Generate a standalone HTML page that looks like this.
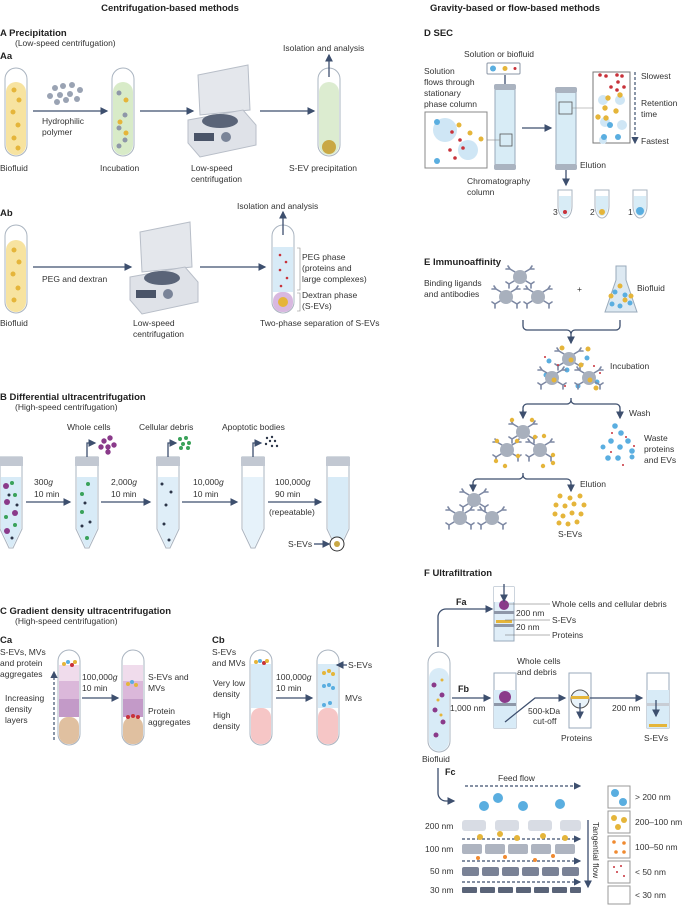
<!DOCTYPE html>
<html><head><meta charset="utf-8"><style>
html,body{margin:0;padding:0;background:#fff}
svg{display:block;font-family:"Liberation Sans",sans-serif}
.t{font-size:8.5px;fill:#333}
.b{font-size:9px;font-weight:bold;fill:#222}
.h{font-size:9.5px;font-weight:bold;fill:#222}
.ar{stroke:#3d4f6e;stroke-width:1.3;fill:none;marker-end:url(#m)}
.ln{stroke:#3d4f6e;stroke-width:1.3;fill:none}
.da{stroke:#3d4f6e;stroke-width:1.2;fill:none;stroke-dasharray:3 2;marker-end:url(#m)}
.tube{fill:#fff;stroke:#aab4c0;stroke-width:1}
.ct{fill:#fff;stroke:#aab4c0;stroke-width:1}
</style></head><body>
<svg width="685" height="906" viewBox="0 0 685 906">
<defs>
<marker id="m" markerWidth="6" markerHeight="6" refX="5" refY="3" orient="auto"><path d="M0,0L6,3L0,6z" fill="#3d4f6e"/></marker>
<g id="cent">
<path d="M10,10 L60,0 L62,45 L12,50z" fill="#e4e7ec" stroke="#b8bec8"/>
<path d="M0,55 L55,45 L68,60 L68,80 L12,92 L0,78z" fill="#dfe2e8" stroke="#b8bec8"/>
<ellipse cx="32" cy="56" rx="18" ry="7" fill="#5a6478"/>
<rect x="6" y="68" width="20" height="8" fill="#4a5468"/>
<circle cx="38" cy="72" r="5" fill="#7a8498"/>
</g>
<g id="ab">
<g stroke="#7d88a3" stroke-width="1.6" fill="none" stroke-linecap="round">
<path d="M-5,-5l-5,-3m0,0l-2,-3m2,3l-4,0"/><path d="M5,-5l5,-3m0,0l2,-3m-2,3l4,0"/><path d="M6,4l5,3m0,0l3,-2m-3,2l0,4"/><path d="M-6,4l-5,3m0,0l-3,-2m3,2l0,4"/>
</g>
<circle r="7" fill="#a8b0bd"/>
</g>
<g id="ct">
<path d="M0,0h22v72l-9,19h-4l-9,-19z" class="ct"/>
</g>
</defs>
<text class="h" x="170" y="11" text-anchor="middle">Centrifugation-based methods</text>
<text class="h" x="515" y="11" text-anchor="middle">Gravity-based or flow-based methods</text>

<!-- A -->
<text class="h" x="0" y="36">A  Precipitation</text>
<text class="t" x="15" y="46">(Low-speed centrifugation)</text>
<text class="h" x="0" y="59">Aa</text>
<rect class="tube" x="5" y="68" width="22" height="88" rx="11"/>
<rect x="6" y="82" width="20" height="73" rx="10" fill="#f7e3a0"/>
<g fill="#e5b53a"><circle cx="14" cy="90" r="2.5"/><circle cx="19" cy="100" r="2.5"/><circle cx="13" cy="112" r="2.5"/><circle cx="18" cy="125" r="2.5"/><circle cx="14" cy="138" r="2.5"/><circle cx="18" cy="148" r="2.5"/></g>
<text class="t" x="0" y="171">Biofluid</text>
<g fill="#9aa3b3"><circle cx="55" cy="88" r="3"/><circle cx="63" cy="86" r="3"/><circle cx="72" cy="85" r="3"/><circle cx="50" cy="96" r="3"/><circle cx="60" cy="95" r="3"/><circle cx="70" cy="94" r="3"/><circle cx="80" cy="90" r="3"/><circle cx="57" cy="102" r="3"/><circle cx="66" cy="100" r="3"/><circle cx="77" cy="99" r="3"/></g>
<line class="ar" x1="33" y1="111" x2="107" y2="111"/>
<text class="t" x="42" y="124">Hydrophilic</text><text class="t" x="42" y="135">polymer</text>
<rect class="tube" x="112" y="68" width="22" height="88" rx="11"/>
<rect x="113" y="82" width="20" height="73" rx="10" fill="#d8ebc8"/>
<g fill="#8e97a8"><circle cx="119" cy="93" r="2.5"/><circle cx="125" cy="115" r="2.5"/><circle cx="119" cy="128" r="2.5"/><circle cx="125" cy="140" r="2.5"/><circle cx="119" cy="146" r="2.5"/></g>
<g fill="#e5b53a"><circle cx="126" cy="100" r="2.5"/><circle cx="120" cy="122" r="2.5"/><circle cx="126" cy="133" r="2.5"/></g>
<text class="t" x="100" y="171">Incubation</text>
<line class="ar" x1="140" y1="111" x2="193" y2="111"/>
<use href="#cent" x="188" y="65"/>
<text class="t" x="191" y="171">Low-speed</text><text class="t" x="191" y="182">centrifugation</text>
<line class="ar" x1="260" y1="111" x2="314" y2="111"/>
<rect class="tube" x="318" y="68" width="22" height="88" rx="11"/>
<rect x="319" y="82" width="20" height="73" rx="10" fill="#dcecd0"/>
<circle cx="329" cy="147" r="7" fill="#c9a845"/>
<line class="ar" x1="329" y1="77" x2="329" y2="55"/>
<text class="t" x="283" y="51">Isolation and analysis</text>
<text class="t" x="289" y="171">S-EV precipitation</text>

<text class="h" x="0" y="216">Ab</text>
<rect class="tube" x="5" y="225" width="22" height="88" rx="11"/>
<rect x="6" y="240" width="20" height="72" rx="10" fill="#f7e3a0"/>
<g fill="#e5b53a"><circle cx="14" cy="250" r="2.5"/><circle cx="19" cy="262" r="2.5"/><circle cx="13" cy="274" r="2.5"/><circle cx="18" cy="288" r="2.5"/><circle cx="14" cy="300" r="2.5"/></g>
<text class="t" x="0" y="326">Biofluid</text>
<line class="ar" x1="33" y1="267" x2="131" y2="267"/>
<text class="t" x="42" y="282">PEG and dextran</text>
<use href="#cent" x="130" y="222"/>
<text class="t" x="133" y="326">Low-speed</text><text class="t" x="133" y="337">centrifugation</text>
<line class="ar" x1="200" y1="267" x2="265" y2="267"/>
<rect class="tube" x="272" y="225" width="22" height="88" rx="11"/>
<rect x="273" y="247" width="20" height="45" fill="#d8ebf7"/>
<rect x="273" y="292" width="20" height="20" rx="9" fill="#d8b8e0"/>
<g fill="#c8323a"><circle cx="280" cy="255" r="1.3"/><circle cx="286" cy="262" r="1.3"/><circle cx="280" cy="270" r="1.3"/><circle cx="287" cy="278" r="1.3"/><circle cx="281" cy="286" r="1.3"/></g>
<circle cx="283" cy="302" r="5" fill="#e5b53a"/>
<line class="ar" x1="283" y1="235" x2="283" y2="212"/>
<text class="t" x="237" y="209">Isolation and analysis</text>
<path d="M297,248h3v42h-3M297,293h3v18h-3" stroke="#888" fill="none" stroke-width=".6"/>
<text class="t" x="302" y="260">PEG phase</text><text class="t" x="302" y="271">(proteins and</text><text class="t" x="302" y="282">large complexes)</text>
<text class="t" x="302" y="298">Dextran phase</text><text class="t" x="302" y="309">(S-EVs)</text>
<text class="t" x="260" y="326">Two-phase separation of S-EVs</text>

<!-- B -->
<text class="h" x="0" y="400">B  Differential ultracentrifugation</text>
<text class="t" x="15" y="410">(High-speed centrifugation)</text>
<g>
<use href="#ct" x="0" y="457"/><path d="M1,477h20v52l-8.5,18h-3l-8.5,-18z" fill="#d8ebf7"/><rect x="-1" y="457" width="24" height="9" fill="#c2c8d2"/>
<g fill="#8a3a8a"><circle cx="6" cy="486" r="3"/><circle cx="7" cy="502" r="3"/><circle cx="15" cy="513" r="3"/><circle cx="7" cy="531" r="3"/></g>
<g fill="#3aa25a"><circle cx="12" cy="483" r="2"/><circle cx="15" cy="495" r="2"/><circle cx="6" cy="517" r="2"/><circle cx="15" cy="525" r="2"/></g>
<g fill="#2c3548"><circle cx="9" cy="495" r="1.5"/><circle cx="12" cy="538" r="1.5"/><circle cx="17" cy="505" r="1.5"/></g>
<use href="#ct" x="76" y="457"/><path d="M77,477h20v52l-8.5,18h-3l-8.5,-18z" fill="#d8ebf7"/><rect x="75" y="457" width="24" height="9" fill="#c2c8d2"/>
<g fill="#3aa25a"><circle cx="88" cy="484" r="2"/><circle cx="82" cy="494" r="2"/><circle cx="82" cy="512" r="2"/><circle cx="87" cy="538" r="2"/></g>
<g fill="#2c3548"><circle cx="85" cy="503" r="1.5"/><circle cx="90" cy="522" r="1.5"/><circle cx="82" cy="526" r="1.5"/></g>
<use href="#ct" x="157" y="457"/><path d="M158,477h20v52l-8.5,18h-3l-8.5,-18z" fill="#dfeef8"/><rect x="156" y="457" width="24" height="9" fill="#c2c8d2"/>
<g fill="#2c3548"><circle cx="162" cy="484" r="1.5"/><circle cx="171" cy="492" r="1.5"/><circle cx="166" cy="505" r="1.5"/><circle cx="164" cy="524" r="1.5"/><circle cx="169" cy="540" r="1.5"/></g>
<use href="#ct" x="242" y="457"/><path d="M243,477h20v52l-8.5,18h-3l-8.5,-18z" fill="#e6f2fa"/><rect x="241" y="457" width="24" height="9" fill="#c2c8d2"/>
<use href="#ct" x="327" y="457"/><path d="M328,477h20v52l-8.5,18h-3l-8.5,-18z" fill="#d8ebf7"/><rect x="326" y="457" width="24" height="9" fill="#c2c8d2"/>
<circle cx="337" cy="544" r="7" fill="#fff" stroke="#333"/><circle cx="337" cy="544" r="3" fill="#c9a845"/>
</g>
<line class="ar" x1="26" y1="502" x2="70" y2="502"/><text class="t" x="34" y="485">300<tspan font-style="italic">g</tspan></text><text class="t" x="34" y="497">10 min</text>
<line class="ar" x1="101" y1="502" x2="150" y2="502"/><text class="t" x="111" y="485">2,000<tspan font-style="italic">g</tspan></text><text class="t" x="111" y="497">10 min</text>
<line class="ar" x1="182" y1="502" x2="237" y2="502"/><text class="t" x="193" y="485">10,000<tspan font-style="italic">g</tspan></text><text class="t" x="193" y="497">10 min</text>
<line class="ar" x1="268" y1="502" x2="321" y2="502"/><text class="t" x="275" y="485">100,000<tspan font-style="italic">g</tspan></text><text class="t" x="275" y="497">90 min</text><text class="t" x="269" y="515">(repeatable)</text>
<text class="t" x="288" y="547">S-EVs</text><line class="ar" x1="314" y1="544" x2="329" y2="544"/>
<path class="ar" d="M87,457V443h8"/><text class="t" x="67" y="430">Whole cells</text>
<g fill="#8a3a8a"><circle cx="104" cy="441" r="2.7"/><circle cx="110" cy="438" r="2.7"/><circle cx="114" cy="445" r="2.7"/><circle cx="108" cy="447" r="2.7"/><circle cx="101" cy="447" r="2.7"/><circle cx="108" cy="452" r="2.7"/></g>
<path class="ar" d="M168,457V443h8"/><text class="t" x="139" y="430">Cellular debris</text>
<g fill="#3aa25a"><circle cx="180" cy="439" r="2"/><circle cx="186" cy="438" r="2"/><circle cx="183" cy="444" r="2"/><circle cx="189" cy="443" r="2"/><circle cx="188" cy="448" r="2"/><circle cx="181" cy="448" r="2"/></g>
<path class="ar" d="M253,457V443h8"/><text class="t" x="222" y="430">Apoptotic bodies</text>
<g fill="#2c3548"><circle cx="267" cy="438" r="1.2"/><circle cx="272" cy="437" r="1.2"/><circle cx="270" cy="441" r="1.2"/><circle cx="275" cy="441" r="1.2"/><circle cx="266" cy="444" r="1.2"/><circle cx="272" cy="446" r="1.2"/><circle cx="277" cy="446" r="1.2"/></g>

<!-- C -->
<text class="h" x="0" y="614">C  Gradient density ultracentrifugation</text>
<text class="t" x="15" y="624">(High-speed centrifugation)</text>
<text class="h" x="0" y="643">Ca</text>
<text class="t" x="0" y="655">S-EVs, MVs</text><text class="t" x="0" y="666">and protein</text><text class="t" x="0" y="677">aggregates</text>
<text class="t" x="5" y="701">Increasing</text><text class="t" x="5" y="712">density</text><text class="t" x="5" y="723">layers</text>
<line class="da" x1="54" y1="740" x2="54" y2="672"/>
<g>
<rect class="tube" x="58" y="650" width="22" height="95" rx="11"/>
<rect x="59" y="665" width="20" height="16" fill="#f0dcec"/><rect x="59" y="681" width="20" height="18" fill="#dbb8da"/><rect x="59" y="699" width="20" height="18" fill="#c39ac8"/><rect x="59" y="717" width="20" height="27" rx="9" fill="#e0c0a0"/>
<g><circle cx="64" cy="664" r="2" fill="#e5b53a"/><circle cx="68" cy="662" r="2" fill="#5aaee0"/><circle cx="72" cy="665" r="2" fill="#c8323a"/><circle cx="75" cy="662" r="2" fill="#e5b53a"/></g>
<rect class="tube" x="122" y="650" width="22" height="95" rx="11"/>
<rect x="123" y="665" width="20" height="16" fill="#f0dcec"/><rect x="123" y="681" width="20" height="18" fill="#dbb8da"/><rect x="123" y="699" width="20" height="18" fill="#c39ac8"/><rect x="123" y="717" width="20" height="27" rx="9" fill="#e0c0a0"/>
<g><circle cx="128" cy="684" r="2" fill="#e5b53a"/><circle cx="132" cy="682" r="2" fill="#5aaee0"/><circle cx="136" cy="685" r="2" fill="#e5b53a"/></g>
<g fill="#c8323a"><circle cx="128" cy="717" r="2"/><circle cx="133" cy="716" r="2"/><circle cx="138" cy="717" r="2"/></g>
</g>
<line class="ar" x1="82" y1="698" x2="118" y2="698"/><text class="t" x="82" y="680">100,000<tspan font-style="italic">g</tspan></text><text class="t" x="82" y="691">10 min</text>
<text class="t" x="148" y="680">S-EVs and</text><text class="t" x="148" y="691">MVs</text>
<text class="t" x="148" y="714">Protein</text><text class="t" x="148" y="725">aggregates</text>
<text class="h" x="212" y="643">Cb</text>
<text class="t" x="212" y="655">S-EVs</text><text class="t" x="212" y="666">and MVs</text>
<text class="t" x="213" y="686">Very low</text><text class="t" x="213" y="697">density</text>
<text class="t" x="213" y="718">High</text><text class="t" x="213" y="729">density</text>
<rect class="tube" x="250" y="650" width="22" height="95" rx="11"/>
<rect x="251" y="664" width="20" height="44" fill="#d8ebf7"/><rect x="251" y="708" width="20" height="36" rx="9" fill="#f6c6c6"/>
<g><circle cx="256" cy="662" r="2" fill="#e5b53a"/><circle cx="260" cy="661" r="2" fill="#5aaee0"/><circle cx="264" cy="663" r="2" fill="#c8323a"/><circle cx="267" cy="661" r="2" fill="#e5b53a"/></g>
<line class="ar" x1="276" y1="698" x2="312" y2="698"/><text class="t" x="276" y="680">100,000<tspan font-style="italic">g</tspan></text><text class="t" x="276" y="691">10 min</text>
<rect class="tube" x="317" y="650" width="22" height="95" rx="11"/>
<rect x="318" y="664" width="20" height="44" fill="#d8ebf7"/><rect x="318" y="708" width="20" height="36" rx="9" fill="#f6c6c6"/>
<g fill="#e5b53a"><circle cx="324" cy="673" r="2"/><circle cx="329" cy="671" r="2"/><circle cx="333" cy="674" r="2"/></g>
<g fill="#5aaee0"><circle cx="324" cy="686" r="2"/><circle cx="329" cy="685" r="2"/><circle cx="333" cy="688" r="2"/><circle cx="324" cy="705" r="2"/><circle cx="330" cy="703" r="2"/></g>
<text class="t" x="348" y="668">S-EVs</text><line class="ar" x1="347" y1="665" x2="337" y2="665"/>
<text class="t" x="345" y="701">MVs</text>

<!-- D -->
<text class="h" x="424" y="36">D  SEC</text>
<text class="t" x="464" y="57">Solution or biofluid</text>
<rect x="487" y="63" width="33" height="11" rx="1" fill="#fff" stroke="#8a94a4"/>
<circle cx="493" cy="68.5" r="3" fill="#5aaee0"/><circle cx="505" cy="68.5" r="2.5" fill="#e5b53a"/><circle cx="515" cy="68.5" r="1.5" fill="#c8323a"/>
<line class="ar" x1="505" y1="75" x2="505" y2="104"/>
<rect x="495" y="87" width="20" height="80" fill="#d8ecf6" stroke="#9ab"/>
<rect x="494" y="84" width="22" height="6" rx="2" fill="#aab3c0"/><rect x="494" y="164" width="22" height="6" rx="2" fill="#aab3c0"/>
<text class="t" x="424" y="74">Solution</text><text class="t" x="424" y="85">flows through</text><text class="t" x="424" y="96">stationary</text><text class="t" x="424" y="107">phase column</text>
<rect x="425" y="112" width="62" height="56" fill="#fff" stroke="#888"/>
<circle cx="445" cy="130" r="12" fill="#cfe6f5"/><circle cx="468" cy="150" r="10" fill="#cfe6f5"/>
<g fill="#c8323a"><circle cx="452" cy="132" r="1.8"/><circle cx="460" cy="140" r="1.8"/><circle cx="450" cy="150" r="1.8"/><circle cx="463" cy="148" r="1.8"/><circle cx="455" cy="158" r="1.8"/></g>
<circle cx="437" cy="122" r="3" fill="#5aaee0"/><circle cx="437" cy="161" r="3" fill="#5aaee0"/>
<g fill="#e5b53a"><circle cx="459" cy="125" r="2.5"/><circle cx="470" cy="133" r="2.5"/><circle cx="481" cy="139" r="2.5"/></g>
<rect x="500" y="134" width="12" height="12" fill="none" stroke="#555" stroke-width=".8"/>
<line x1="487" y1="140" x2="500" y2="140" stroke="#888" stroke-width=".6"/>
<text class="t" x="467" y="184">Chromatography</text><text class="t" x="467" y="195">column</text>
<line class="ar" x1="522" y1="128" x2="551" y2="128"/>
<rect x="556" y="90" width="20" height="77" fill="#d8ecf6" stroke="#9ab"/>
<rect x="555" y="87" width="22" height="6" rx="2" fill="#aab3c0"/><rect x="555" y="164" width="22" height="6" rx="2" fill="#aab3c0"/>
<rect x="559" y="102" width="13" height="12" fill="none" stroke="#555" stroke-width=".8"/>
<line x1="572" y1="108" x2="593" y2="108" stroke="#888" stroke-width=".6"/>
<rect x="593" y="72" width="37" height="71" fill="#fff" stroke="#777"/>
<g fill="#cfe6f5"><circle cx="603" cy="100" r="5"/><circle cx="620" cy="100" r="5"/><circle cx="605" cy="122" r="5"/><circle cx="622" cy="125" r="5"/><circle cx="603" cy="140" r="4"/></g>
<g fill="#c8323a"><circle cx="600" cy="75" r="1.8"/><circle cx="606" cy="76" r="1.8"/><circle cx="617" cy="75" r="1.8"/><circle cx="622" cy="76" r="1.8"/><circle cx="618" cy="82" r="1.8"/><circle cx="611" cy="87" r="1.8"/><circle cx="617" cy="90" r="1.8"/><circle cx="624" cy="87" r="1.8"/></g>
<g fill="#e5b53a"><circle cx="608" cy="98" r="2.7"/><circle cx="620" cy="95" r="2.7"/><circle cx="605" cy="108" r="2.7"/><circle cx="616" cy="111" r="2.7"/><circle cx="598" cy="117" r="2.7"/><circle cx="606" cy="118" r="2.7"/></g>
<g fill="#5aaee0"><circle cx="610" cy="125" r="3"/><circle cx="604" cy="137" r="3"/><circle cx="618" cy="137" r="3"/></g>
<line class="da" x1="635" y1="72" x2="635" y2="143"/>
<text class="t" x="641" y="79">Slowest</text><text class="t" x="641" y="106">Retention</text><text class="t" x="641" y="117">time</text><text class="t" x="641" y="144">Fastest</text>
<line class="ar" x1="566" y1="170" x2="566" y2="185"/>
<text class="t" x="580" y="168">Elution</text>
<g><path d="M558,190h14v16a7,12 0 0 1-14,0z" class="tube" fill="#fff"/><path d="M559,196h12v10a6,10 0 0 1-12,0z" fill="#d8ecf6"/><circle cx="565" cy="212" r="2" fill="#c8323a"/>
<path d="M595,190h14v16a7,12 0 0 1-14,0z" class="tube"/><path d="M596,196h12v10a6,10 0 0 1-12,0z" fill="#d8ecf6"/><circle cx="602" cy="212" r="3" fill="#e5b53a"/>
<path d="M633,190h14v16a7,12 0 0 1-14,0z" class="tube"/><path d="M634,196h12v10a6,10 0 0 1-12,0z" fill="#d8ecf6"/><circle cx="640" cy="211" r="4" fill="#5aaee0"/></g>
<text class="t" x="553" y="215">3</text><text class="t" x="590" y="215">2</text><text class="t" x="628" y="215">1</text>

<!-- E -->
<text class="h" x="424" y="265">E  Immunoaffinity</text>
<text class="t" x="424" y="286">Binding ligands</text><text class="t" x="424" y="297">and antibodies</text>
<use href="#ab" x="520" y="277"/><use href="#ab" x="506" y="297"/><use href="#ab" x="538" y="297"/>
<text class="t" x="577" y="292">+</text>
<path d="M616,266h10v14l11,32h-32l11,-32z" fill="#dde9f2" stroke="#9ab"/>
<g fill="#5aaee0"><circle cx="615" cy="292" r="2.5"/><circle cx="625" cy="295" r="2.5"/><circle cx="612" cy="304" r="2.5"/><circle cx="620" cy="306" r="2.5"/><circle cx="630" cy="303" r="2.5"/></g><g fill="#e5b53a"><circle cx="620" cy="286" r="2.5"/><circle cx="611" cy="296" r="2.5"/><circle cx="625" cy="300" r="2.5"/><circle cx="631" cy="296" r="2.5"/></g>
<text class="t" x="637" y="291">Biofluid</text>
<path class="ln" d="M523,320v6a4,4 0 0 0 4,4h40a4,4 0 0 1 4,4a4,4 0 0 1 4,-4h41a4,4 0 0 0 4,-4v-6"/><line class="ar" x1="571" y1="334" x2="571" y2="343"/>
<g fill="#5aaee0"><circle cx="549" cy="361" r="2.5"/><circle cx="587" cy="358" r="2.5"/><circle cx="567" cy="370" r="2.5"/><circle cx="578" cy="386" r="2.5"/><circle cx="546" cy="375" r="2.5"/><circle cx="597" cy="382" r="2.5"/></g>
<use href="#ab" x="569" y="359"/><use href="#ab" x="552" y="378"/><use href="#ab" x="589" y="378"/>
<g fill="#e5b53a"><circle cx="562" cy="348" r="2.5"/><circle cx="588" cy="349" r="2.5"/><circle cx="571" cy="360" r="2.5"/><circle cx="554" cy="380" r="2.5"/><circle cx="590" cy="380" r="2.5"/><circle cx="581" cy="365" r="2.5"/><circle cx="596" cy="388" r="2.5"/></g>
<g fill="#c8323a"><circle cx="545" cy="357" r="1"/><circle cx="558" cy="365" r="1"/><circle cx="594" cy="366" r="1"/><circle cx="565" cy="386" r="1"/><circle cx="600" cy="373" r="1"/></g>
<text class="t" x="610" y="369">Incubation</text>
<path class="ln" d="M571,398v2a4,4 0 0 1 -4,4h-40a4,4 0 0 0 -4,4v6M571,400a4,4 0 0 0 4,4h41a4,4 0 0 1 4,4v6"/>
<line class="ar" x1="523" y1="410" x2="523" y2="418"/><line class="ar" x1="620" y1="410" x2="620" y2="418"/>
<text class="t" x="629" y="416">Wash</text>
<use href="#ab" x="523" y="432"/><use href="#ab" x="507" y="450"/><use href="#ab" x="540" y="450"/>
<g fill="#e5b53a"><circle cx="512" cy="420" r="2.2"/><circle cx="532" cy="420" r="2.2"/><circle cx="535" cy="437" r="2.2"/><circle cx="497" cy="441" r="2.2"/><circle cx="517" cy="441" r="2.2"/><circle cx="544" cy="436" r="2.2"/><circle cx="496" cy="461" r="2.2"/><circle cx="505" cy="466" r="2.2"/><circle cx="518" cy="456" r="2.2"/><circle cx="553" cy="455" r="2.2"/><circle cx="543" cy="466" r="2.2"/><circle cx="553" cy="463" r="2.2"/></g>
<g fill="#5aaee0"><circle cx="615" cy="426" r="2.8"/><circle cx="621" cy="433" r="2.8"/><circle cx="628" cy="441" r="2.8"/><circle cx="611" cy="441" r="2.8"/><circle cx="620" cy="447" r="2.8"/><circle cx="632" cy="451" r="2.8"/><circle cx="608" cy="458" r="2.8"/><circle cx="618" cy="458" r="2.8"/><circle cx="632" cy="457" r="2.5"/><circle cx="603" cy="447" r="2.5"/></g>
<g fill="#c8323a"><circle cx="612" cy="433" r="1"/><circle cx="626" cy="437" r="1"/><circle cx="634" cy="446" r="1"/><circle cx="611" cy="452" r="1"/><circle cx="623" cy="465" r="1"/></g>
<text class="t" x="644" y="441">Waste</text><text class="t" x="644" y="452">proteins</text><text class="t" x="644" y="463">and EVs</text>
<path class="ln" d="M523,473v2a4,4 0 0 1 -4,4h-42a4,4 0 0 0 -4,4v5M523,475a4,4 0 0 0 4,4h40a4,4 0 0 1 4,4v5"/>
<line class="ar" x1="473" y1="484" x2="473" y2="491"/><line class="ar" x1="571" y1="484" x2="571" y2="491"/>
<text class="t" x="580" y="487">Elution</text>
<use href="#ab" x="474" y="500"/><use href="#ab" x="460" y="518"/><use href="#ab" x="492" y="518"/>
<g fill="#e5b53a"><circle cx="560" cy="496" r="2.5"/><circle cx="570" cy="498" r="2.5"/><circle cx="580" cy="496" r="2.5"/><circle cx="556" cy="505" r="2.5"/><circle cx="565" cy="506" r="2.5"/><circle cx="574" cy="504" r="2.5"/><circle cx="584" cy="505" r="2.5"/><circle cx="555" cy="514" r="2.5"/><circle cx="563" cy="516" r="2.5"/><circle cx="572" cy="513" r="2.5"/><circle cx="581" cy="514" r="2.5"/><circle cx="559" cy="523" r="2.5"/><circle cx="568" cy="524" r="2.5"/><circle cx="577" cy="522" r="2.5"/></g>
<text class="t" x="558" y="537">S-EVs</text>

<!-- F -->
<text class="h" x="424" y="576">F  Ultrafiltration</text>
<rect class="tube" x="428" y="652" width="22" height="100" rx="11"/>
<rect x="429" y="668" width="20" height="83" rx="10" fill="#d8ebf7"/>
<g fill="#8a3a8a"><circle cx="434" cy="685" r="2.5"/><circle cx="442" cy="695" r="2.5"/><circle cx="435" cy="710" r="2.5"/><circle cx="443" cy="722" r="2.5"/><circle cx="436" cy="735" r="2.5"/></g>
<g fill="#e5b53a"><circle cx="442" cy="680" r="1.5"/><circle cx="438" cy="700" r="1.5"/><circle cx="441" cy="715" r="1.5"/></g>
<text class="t" x="422" y="762">Biofluid</text>
<path class="ar" d="M438,647V617a8,8 0 0 1 8,-8h46"/>
<text class="b" x="456" y="605">Fa</text>
<rect x="494" y="587" width="20" height="54" fill="#e0eef8" stroke="#9ab"/>
<rect x="494" y="587" width="20" height="15" fill="#fff"/>
<circle cx="504" cy="605" r="5" fill="#8a3a8a"/><rect x="494" y="611" width="20" height="3" fill="#8e97a8"/><rect x="496" y="620" width="16" height="3" fill="#e5b53a"/><rect x="494" y="624" width="20" height="3" fill="#8e97a8"/>
<line class="ar" x1="504" y1="584" x2="504" y2="601"/>
<text class="t" x="516" y="616">200 nm</text><text class="t" x="516" y="630">20 nm</text>
<text class="t" x="552" y="607">Whole cells and cellular debris</text><text class="t" x="552" y="623">S-EVs</text><text class="t" x="552" y="638">Proteins</text>
<path d="M505,604H550M505,620H550M505,635H550" stroke="#666" stroke-width=".5"/>
<line class="ar" x1="452" y1="698" x2="490" y2="698"/>
<text class="b" x="458" y="692">Fb</text><text class="t" x="450" y="711">1,000 nm</text>
<rect x="494" y="673" width="22" height="55" fill="#fff" stroke="#9ab"/><rect x="494" y="690" width="22" height="38" fill="#d8ebf7"/>
<circle cx="505" cy="697" r="6" fill="#8a3a8a"/><rect x="494" y="703" width="22" height="3" fill="#8e97a8"/>
<text class="t" x="517" y="664">Whole cells</text><text class="t" x="517" y="675">and debris</text>
<path class="ar" d="M505,722L535,698h30"/>
<text class="t" x="528" y="714">500-kDa</text><text class="t" x="533" y="724">cut-off</text>
<rect x="569" y="673" width="22" height="55" fill="#fff" stroke="#9ab"/>
<circle cx="580" cy="699" r="9" fill="#e8f2f9" stroke="#555"/><rect x="571" y="696" width="18" height="3" fill="#e5b53a"/>
<line class="ar" x1="580" y1="703" x2="580" y2="718"/>
<text class="t" x="561" y="741">Proteins</text>
<line class="ar" x1="590" y1="698" x2="642" y2="698"/><text class="t" x="612" y="711">200 nm</text>
<rect x="647" y="673" width="22" height="55" fill="#fff" stroke="#9ab"/><rect x="647" y="690" width="22" height="38" fill="#d8ebf7"/>
<rect x="647" y="703" width="22" height="3" fill="#c8cdd5"/><rect x="649" y="724" width="18" height="3" fill="#e5b53a"/>
<line class="ar" x1="656" y1="700" x2="656" y2="716"/>
<text class="t" x="644" y="741">S-EVs</text>
<path class="ar" d="M438,768V793a8,8 0 0 0 8,8h8"/>
<text class="b" x="445" y="775">Fc</text>
<text class="t" x="498" y="781">Feed flow</text>
<line class="da" x1="465" y1="786" x2="580" y2="786"/>
<g fill="#5aaee0"><circle cx="484" cy="806" r="5"/><circle cx="498" cy="798" r="5"/><circle cx="523" cy="806" r="5"/><circle cx="560" cy="804" r="5"/></g>
<text class="t" x="425" y="829">200 nm</text>
<g fill="#d8dce4"><rect x="462" y="820" width="24" height="11" rx="3"/><rect x="495" y="820" width="24" height="11" rx="3"/><rect x="528" y="820" width="24" height="11" rx="3"/><rect x="560" y="820" width="21" height="11" rx="3"/></g>
<line class="da" x1="462" y1="839" x2="580" y2="839"/>
<g fill="#e5b53a"><circle cx="500" cy="834" r="3"/><circle cx="480" cy="837" r="3"/><circle cx="517" cy="838" r="3"/><circle cx="543" cy="836" r="3"/><circle cx="565" cy="838" r="3"/></g>
<text class="t" x="425" y="852">100 nm</text>
<g fill="#aeb4c0"><rect x="462" y="844" width="20" height="10" rx="2"/><rect x="485" y="844" width="20" height="10" rx="2"/><rect x="508" y="844" width="20" height="10" rx="2"/><rect x="531" y="844" width="20" height="10" rx="2"/><rect x="555" y="844" width="20" height="10" rx="2"/></g>
<line class="da" x1="462" y1="861" x2="580" y2="861"/>
<g fill="#f08a30"><circle cx="478" cy="858" r="2"/><circle cx="505" cy="857" r="2"/><circle cx="535" cy="860" r="2"/><circle cx="553" cy="856" r="2"/></g>
<text class="t" x="430" y="874">50 nm</text>
<g fill="#7a8296"><rect x="462" y="867" width="17" height="9" rx="2"/><rect x="482" y="867" width="17" height="9" rx="2"/><rect x="502" y="867" width="17" height="9" rx="2"/><rect x="522" y="867" width="17" height="9" rx="2"/><rect x="542" y="867" width="17" height="9" rx="2"/><rect x="562" y="867" width="17" height="9" rx="2"/></g>
<line class="da" x1="462" y1="882" x2="580" y2="882"/>
<text class="t" x="430" y="893">30 nm</text>
<g fill="#5a6478"><rect x="462" y="887" width="15" height="6" rx="1"/><rect x="480" y="887" width="15" height="6" rx="1"/><rect x="498" y="887" width="15" height="6" rx="1"/><rect x="516" y="887" width="15" height="6" rx="1"/><rect x="534" y="887" width="15" height="6" rx="1"/><rect x="552" y="887" width="15" height="6" rx="1"/><rect x="570" y="887" width="11" height="6" rx="1"/></g>
<line class="ar" x1="588" y1="820" x2="588" y2="887"/>
<text class="t" transform="translate(593,822) rotate(90)">Tangential flow</text>
<g fill="#fff" stroke="#999"><rect x="608" y="786" width="22" height="22"/><rect x="608" y="811" width="22" height="22"/><rect x="608" y="836" width="22" height="22"/><rect x="608" y="861" width="22" height="22"/><rect x="608" y="886" width="22" height="18"/></g>
<circle cx="615" cy="793" r="4" fill="#5aaee0"/><circle cx="623" cy="802" r="4" fill="#5aaee0"/>
<g fill="#e5b53a"><circle cx="614" cy="818" r="3"/><circle cx="624" cy="820" r="3"/><circle cx="618" cy="827" r="3"/></g>
<g fill="#f08a30"><circle cx="614" cy="842" r="1.8"/><circle cx="624" cy="843" r="1.8"/><circle cx="616" cy="852" r="1.8"/><circle cx="624" cy="852" r="1.8"/></g>
<g fill="#c8323a"><circle cx="614" cy="867" r="1"/><circle cx="621" cy="866" r="1"/><circle cx="617" cy="872" r="1"/><circle cx="624" cy="876" r="1"/></g>
<text class="t" x="635" y="800">&gt; 200 nm</text><text class="t" x="635" y="825">200–100 nm</text><text class="t" x="635" y="850">100–50 nm</text><text class="t" x="635" y="875">&lt; 50 nm</text><text class="t" x="635" y="898">&lt; 30 nm</text>
</svg>
</body></html>
